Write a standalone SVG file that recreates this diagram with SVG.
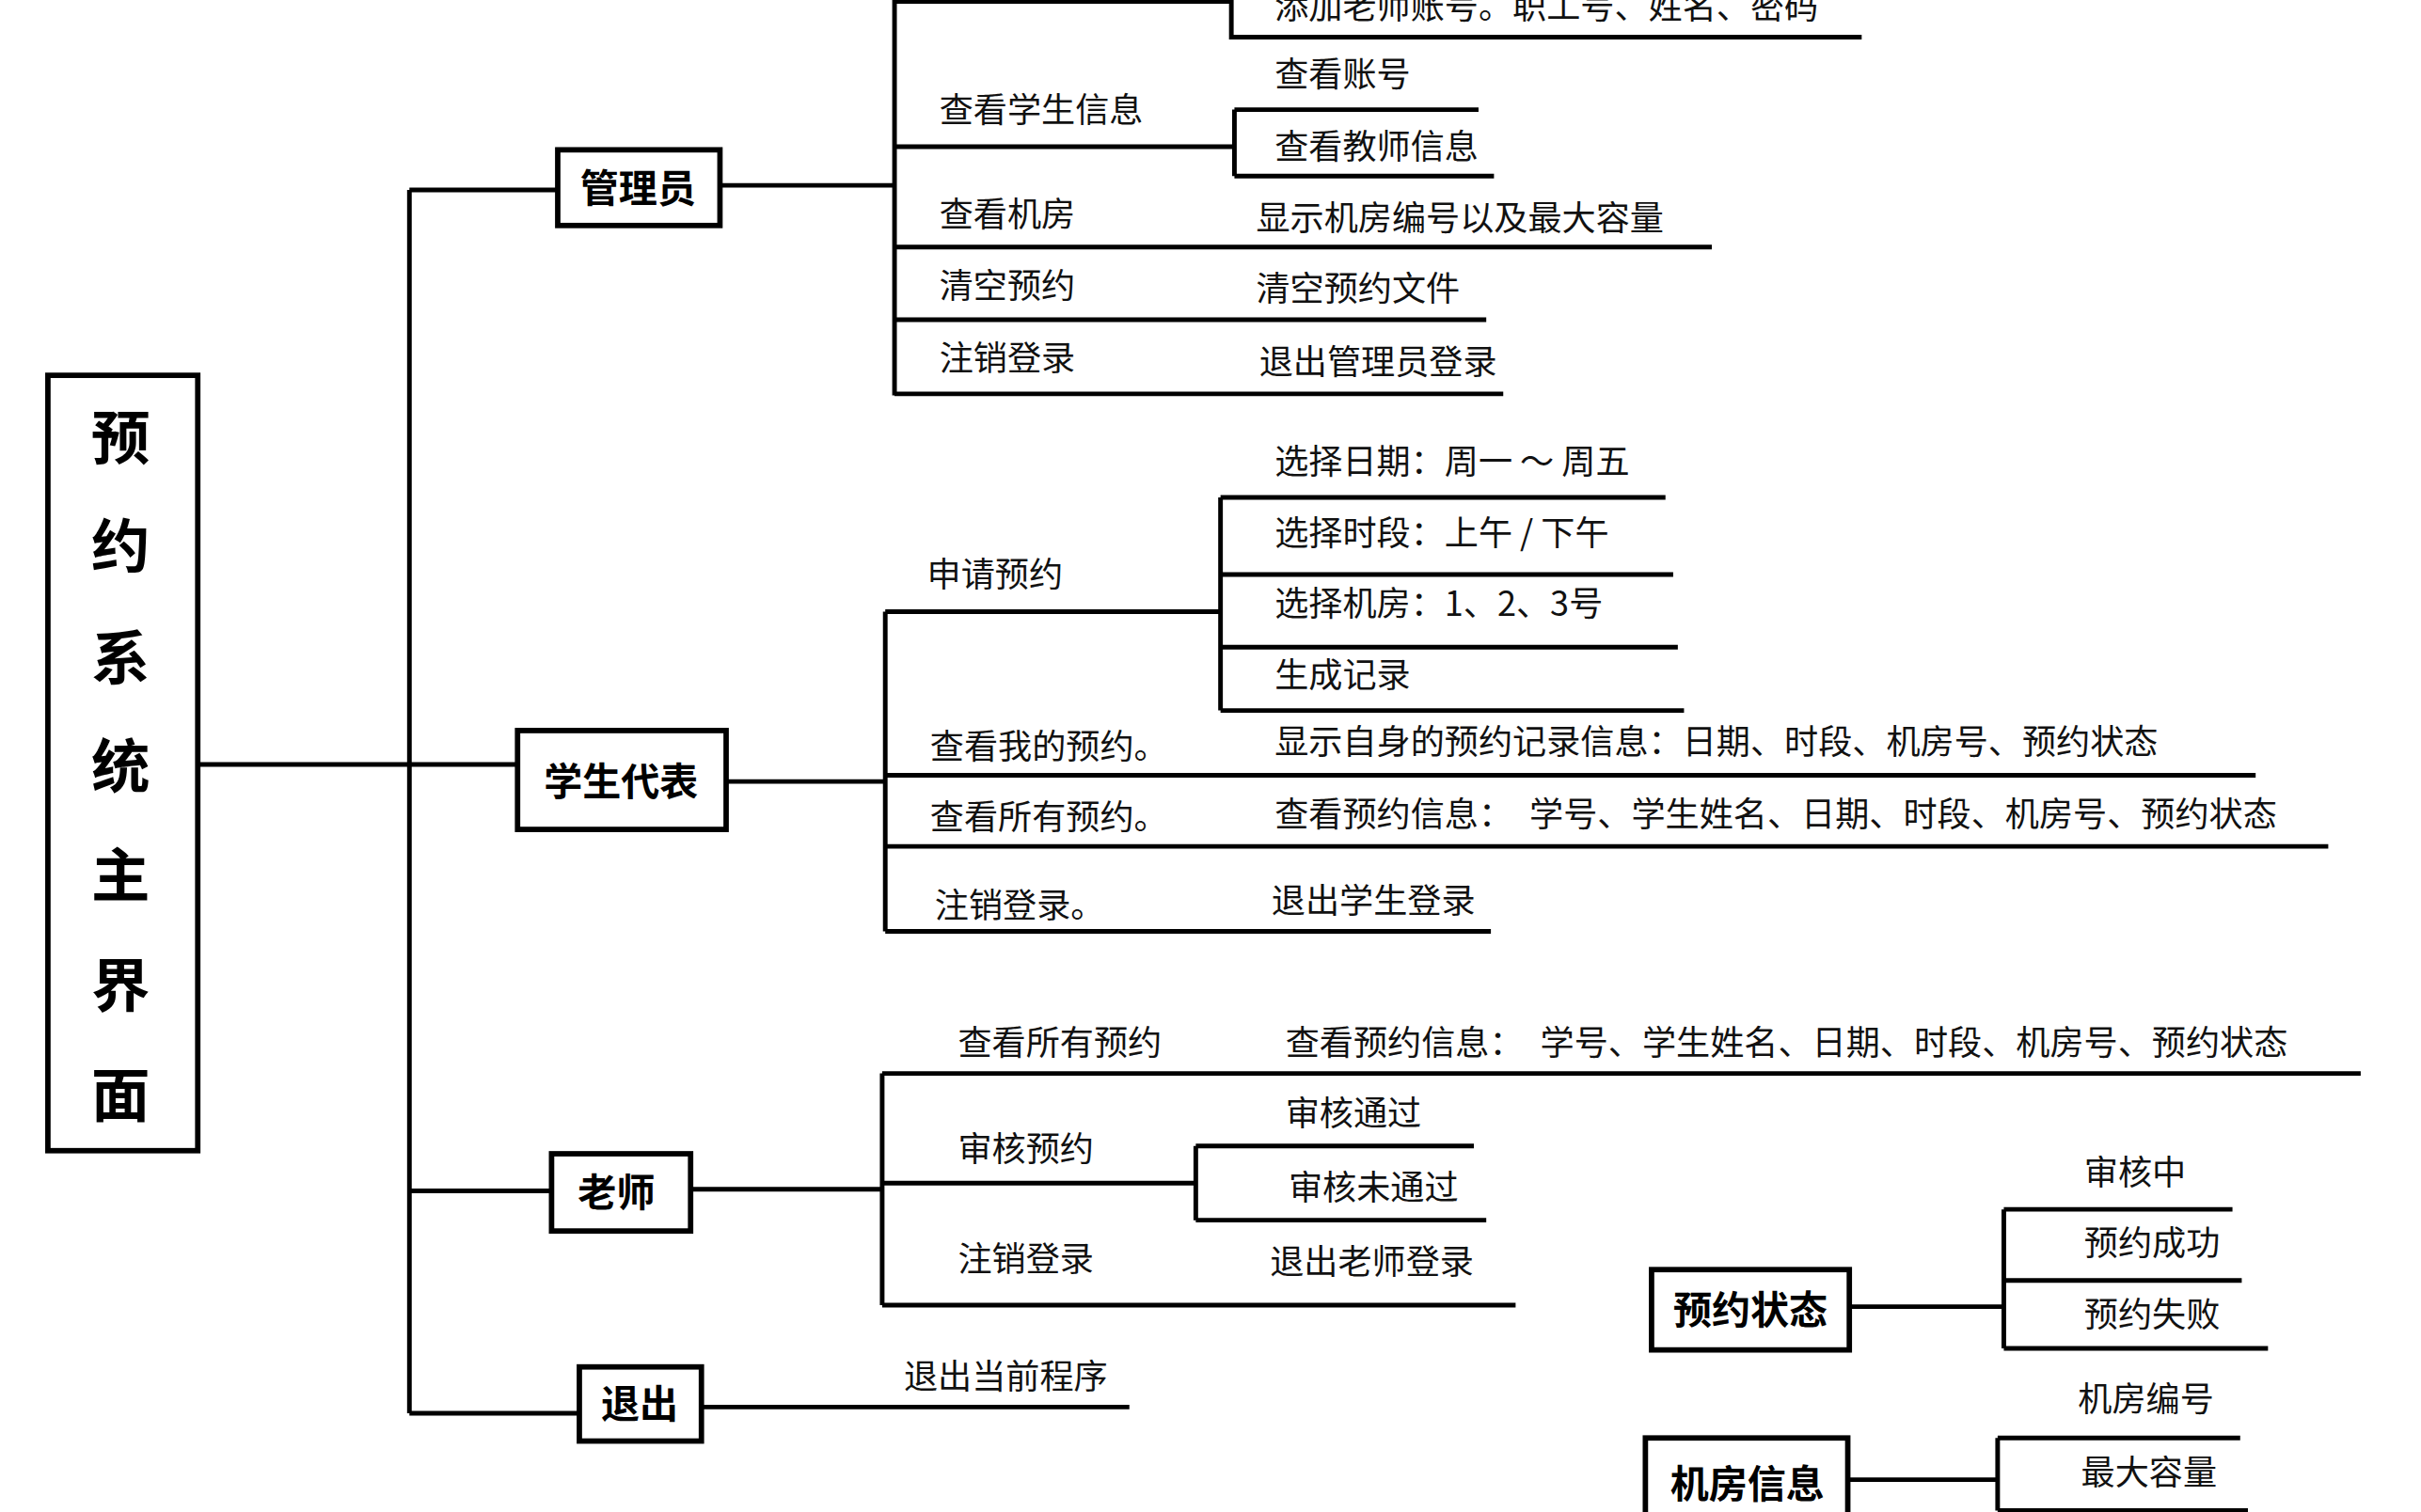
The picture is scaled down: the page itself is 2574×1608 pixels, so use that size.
<svg xmlns="http://www.w3.org/2000/svg" width="2574" height="1608" viewBox="0 0 2574 1608">
<style>
.l{stroke:#000;stroke-width:3;fill:none}
.b{stroke:#000;stroke-width:3.5;fill:#fff}
.t{font-family:"Noto Sans CJK SC",sans-serif;font-size:22px;fill:#111}
.h{font-family:"Noto Sans CJK SC",sans-serif;font-size:25px;font-weight:bold;fill:#000;text-anchor:middle}
.g{font-family:"Noto Sans CJK SC",sans-serif;font-size:38px;font-weight:bold;fill:#000;text-anchor:middle}
</style>
<rect width="2574" height="1608" fill="#fff"/>
<g transform="scale(1.6426)">
<g id="connectors">
<path class="l" d="M129 495H335M265 123V915M265 123H361M265 771H357M265 915H375"/>
<path class="l" d="M466 120H579M579 0V256M579 1H797M797 0V24H1205M579 95H799M799 71V114M799 71H957M799 114H967M579 160H1108M579 207H962M579 255H973"/>
<path class="l" d="M470 506H573M573 396V603M573 396H790M790 322V460M790 322H1078M790 372H1083M790 419H1086M790 460H1090M573 502H1460M573 548H1507M573 603H965"/>
<path class="l" d="M447 770H571M571 695V845M571 695H1528M571 766H774M774 742V790M774 742H954M774 790H962M571 845H981"/>
<path class="l" d="M454 911H731"/>
<path class="l" d="M1197 846H1297M1297 783V873M1297 783H1445M1297 829H1451M1297 873H1468"/>
<path class="l" d="M1196 958H1293M1293 931V978M1293 931H1450M1293 978H1455"/>
</g>
<g id="title"><rect class="b" x="31" y="243" width="97" height="502" stroke-width="5"/>
<text class="g" x="78" y="298">预</text><text class="g" x="78" y="368">约</text><text class="g" x="78" y="440">系</text><text class="g" x="78" y="510">统</text><text class="g" x="78" y="581">主</text><text class="g" x="78" y="652">界</text><text class="g" x="78" y="723">面</text></g>
<g id="admin"><rect class="b" x="361" y="97" width="105" height="49"/><text class="h" x="413" y="131">管理员</text></g>
<g id="student"><rect class="b" x="335" y="473" width="135" height="64"/><text class="h" x="402" y="515">学生代表</text></g>
<g id="teacher"><rect class="b" x="357" y="747" width="90" height="50"/><text class="h" x="399" y="781">老师</text></g>
<g id="exit"><rect class="b" x="375" y="885" width="79" height="48"/><text class="h" x="414" y="918">退出</text></g>
<g id="status"><rect class="b" x="1069" y="822" width="128" height="52"/><text class="h" x="1133" y="857">预约状态</text></g>
<g id="room"><rect class="b" x="1065" y="931" width="131" height="60"/><text class="h" x="1131" y="970">机房信息</text></g>
<g id="labels">
<text class="t" x="825" y="12">添加老师账号。职工号、姓名、密码</text>
<text class="t" x="608" y="79">查看学生信息</text>
<text class="t" x="825" y="56">查看账号</text>
<text class="t" x="825" y="103">查看教师信息</text>
<text class="t" x="608" y="147">查看机房</text>
<text class="t" x="813" y="149">显示机房编号以及最大容量</text>
<text class="t" x="608" y="193">清空预约</text>
<text class="t" x="813" y="195">清空预约文件</text>
<text class="t" x="608" y="240">注销登录</text>
<text class="t" x="815" y="242">退出管理员登录</text>
<text class="t" x="600" y="380">申请预约</text>
<text class="t" x="825" y="307">选择日期：周一 ～ 周五</text>
<text class="t" x="825" y="353">选择时段：上午 / 下午</text>
<text class="t" x="825" y="399">选择机房：1、2、3号</text>
<text class="t" x="825" y="445">生成记录</text>
<text class="t" x="602" y="491">查看我的预约。</text>
<text class="t" x="825" y="488">显示自身的预约记录信息：日期、时段、机房号、预约状态</text>
<text class="t" x="602" y="537">查看所有预约。</text>
<text class="t" x="825" y="535">查看预约信息：　学号、学生姓名、日期、时段、机房号、预约状态</text>
<text class="t" x="605" y="594">注销登录。</text>
<text class="t" x="823" y="591">退出学生登录</text>
<text class="t" x="620" y="683">查看所有预约</text>
<text class="t" x="832" y="683">查看预约信息：　学号、学生姓名、日期、时段、机房号、预约状态</text>
<text class="t" x="620" y="752">审核预约</text>
<text class="t" x="832" y="729">审核通过</text>
<text class="t" x="834" y="777">审核未通过</text>
<text class="t" x="620" y="823">注销登录</text>
<text class="t" x="822" y="825">退出老师登录</text>
<text class="t" x="585" y="899">退出当前程序</text>
<text class="t" x="1349" y="767">审核中</text>
<text class="t" x="1349" y="813">预约成功</text>
<text class="t" x="1349" y="859">预约失败</text>
<text class="t" x="1345" y="914">机房编号</text>
<text class="t" x="1347" y="961">最大容量</text>
</g>
</g>
</svg>
